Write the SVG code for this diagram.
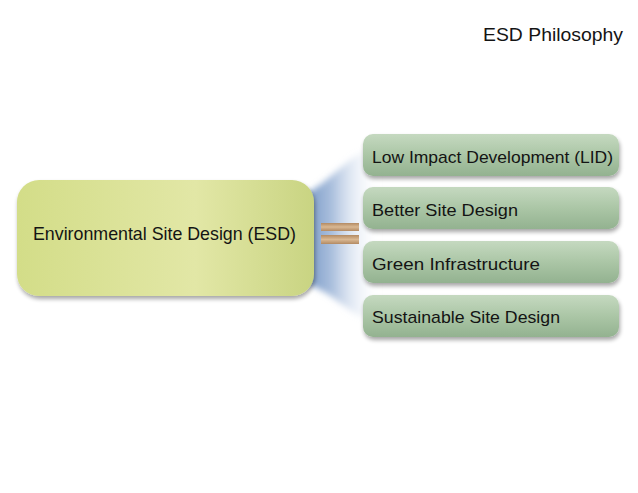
<svg xmlns="http://www.w3.org/2000/svg" width="638" height="493" viewBox="0 0 638 493">
<defs>
<linearGradient id="gMain" x1="0" y1="0" x2="1" y2="0">
<stop offset="0" stop-color="#d3dd88"/>
<stop offset="0.6" stop-color="#e2e7a6"/>
<stop offset="1" stop-color="#c9d482"/>
</linearGradient>
<linearGradient id="gItem" x1="0" y1="0" x2="0" y2="1">
<stop offset="0" stop-color="#c5d9c0"/>
<stop offset="0.5" stop-color="#abc6a6"/>
<stop offset="1" stop-color="#93b290"/>
</linearGradient>
<linearGradient id="gFan" x1="0" y1="0" x2="1" y2="0">
<stop offset="0" stop-color="#6f92c2" stop-opacity="0.95"/>
<stop offset="0.35" stop-color="#8eaad2" stop-opacity="0.75"/>
<stop offset="1" stop-color="#ffffff" stop-opacity="0"/>
</linearGradient>
<linearGradient id="gEq" x1="0" y1="0" x2="0" y2="1">
<stop offset="0" stop-color="#b38a63"/>
<stop offset="0.5" stop-color="#d9b893"/>
<stop offset="1" stop-color="#b38a63"/>
</linearGradient>
<filter id="sh" x="-10%" y="-10%" width="120%" height="140%">
<feGaussianBlur in="SourceAlpha" stdDeviation="2"/>
<feOffset dx="1" dy="3" result="b"/>
<feComponentTransfer><feFuncA type="linear" slope="0.35"/></feComponentTransfer>
<feMerge><feMergeNode/><feMergeNode in="SourceGraphic"/></feMerge>
</filter>
<filter id="soft" x="-20%" y="-20%" width="140%" height="140%">
<feGaussianBlur stdDeviation="3"/>
</filter>
</defs>
<style>
text{font-family:"Liberation Sans",Arial,sans-serif;fill:#141414}
.item{fill:url(#gItem);filter:url(#sh)}
.lbl{font-size:17px}
</style>
<rect width="638" height="493" fill="#ffffff"/>
<text x="483" y="41" font-size="18.5" textLength="140" lengthAdjust="spacingAndGlyphs">ESD Philosophy</text>
<g id="connectors">
<path d="M306,194 C335,178 350,152 380,146 L380,324 C350,318 335,292 306,284 Z" fill="url(#gFan)" filter="url(#soft)"/>
<g id="equals">
<rect x="321" y="223" width="38" height="8" fill="url(#gEq)"/>
<rect x="321" y="235" width="38" height="9" fill="url(#gEq)"/>
</g>
</g>
<g id="esd">
<rect x="17" y="180" width="297" height="116" rx="22" fill="url(#gMain)" filter="url(#sh)"/>
<text x="33" y="240" font-size="18.5" textLength="263" lengthAdjust="spacingAndGlyphs">Environmental Site Design (ESD)</text>
</g>
<g id="lid">
<rect class="item" x="363" y="134" width="256" height="42" rx="10"/>
<text class="lbl" x="372" y="163" textLength="241" lengthAdjust="spacingAndGlyphs">Low Impact Development (LID)</text>
</g>
<g id="better">
<rect class="item" x="363" y="187" width="256" height="42" rx="10"/>
<text class="lbl" x="372" y="216" textLength="146" lengthAdjust="spacingAndGlyphs">Better Site Design</text>
</g>
<g id="green">
<rect class="item" x="363" y="241" width="256" height="42" rx="10"/>
<text class="lbl" x="372" y="270" textLength="168" lengthAdjust="spacingAndGlyphs">Green Infrastructure</text>
</g>
<g id="sustainable">
<rect class="item" x="363" y="295" width="256" height="42" rx="10"/>
<text class="lbl" x="372" y="323" textLength="188" lengthAdjust="spacingAndGlyphs">Sustainable Site Design</text>
</g>
</svg>
